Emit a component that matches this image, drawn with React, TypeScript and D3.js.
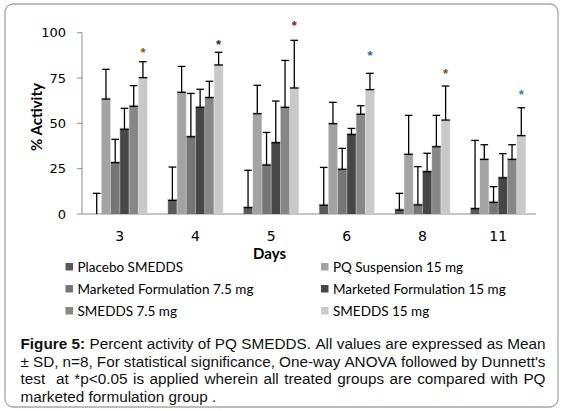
import React, { useEffect, useRef } from 'react';
import * as d3 from 'd3';

// chart data
const days = ['3', '4', '5', '6', '8', '11'];
const seriesNames = [
  'Placebo SMEDDS',
  'PQ Suspension 15 mg',
  'Marketed Formulation 7.5 mg',
  'Marketed Formulation 15 mg',
  'SMEDDS 7.5 mg',
  'SMEDDS 15 mg',
];
const placebo = [0, 7.5, 3.5, 4.8, 2.2, 2.9];
const pqSusp = [63.4, 67.1, 55.3, 49.8, 32.9, 30.1];
const mkt75 = [28.3, 42.6, 27.0, 24.6, 5.0, 6.4];
const mkt15 = [46.7, 58.8, 39.3, 43.8, 23.3, 19.9];
const smedds75 = [59.4, 64.2, 58.8, 55.0, 37.1, 30.1];
const smedds15 = [75.2, 82.2, 69.5, 68.6, 51.8, 43.2];

const placeboSd = [11.4, 18.4, 20.6, 20.9, 9.2, 37.7];
const pqSuspSd = [16.4, 14.3, 15.7, 11.8, 21.5, 8.1];
const mkt75Sd = [12.9, 23.9, 18.0, 11.6, 21.1, 8.7];
const mkt15Sd = [11.6, 10.0, 23.0, 3.4, 10.2, 13.4];
const smedds75Sd = [11.4, 9.0, 25.9, 4.7, 17.3, 8.1];
const smedds15Sd = [8.8, 7.0, 26.3, 9.0, 18.8, 15.4];

// significance markers above SMEDDS 15 mg (height in % units)
const starLevel = [89.7, 94.3, 104.8, 88.2, 78.3, 66.7];
const starColors = ['#7d5c12', '#1f2d4d', '#7a1434', '#2563a3', '#6b5222', '#2a82ad'];

const yTicks = [0, 25, 50, 75, 100];
const colors = ['#595959', '#a3a3a3', '#767676', '#474747', '#878787', '#c9c9c9'];

const captionLines = [
  'Figure 5: Percent activity of PQ SMEDDS. All values are expressed as Mean',
  '± SD, n=8, For statistical significance, One-way ANOVA followed by Dunnett\'s',
  'test  at *p<0.05 is applied wherein all treated groups are compared with PQ',
  'marketed formulation group .',
];

const means = [placebo, pqSusp, mkt75, mkt15, smedds75, smedds15];
const sds = [placeboSd, pqSuspSd, mkt75Sd, mkt15Sd, smedds75Sd, smedds15Sd];

const W = 566;
const H = 411;

const App: React.FC = () => {
  const captionRef = useRef<SVGGElement>(null);

  // layout
  const plot = { left: 82, right: 536, top: 32.7, bottom: 214 };
  const x0 = d3.scaleBand<string>().domain(days).range([plot.left, plot.right])
    .paddingInner(0.257).paddingOuter(0.1285);
  const x1 = d3.scaleBand<string>().domain(seriesNames).range([0, x0.bandwidth()]).padding(0.08);
  const y = d3.scaleLinear().domain([0, 100]).range([plot.bottom, plot.top]);

  const bars = days.flatMap((day, i) =>
    seriesNames.map((s, j) => ({ day, s, j, v: means[j][i], sd: sds[j][i] })));

  // justified caption, laid out by measuring each word
  useEffect(() => {
    const g = d3.select(captionRef.current);
    g.selectAll('*').remove();
    const left = 20.5, right = 545.5, base = 349, lh = 17.6;
    captionLines.forEach((line, li) => {
      const tokens = line.split(/( +)/);
      const words: string[] = [];
      const gaps: number[] = [];
      tokens.forEach((t) => {
        if (t.trim() === '') gaps.push(t.length);
        else words.push(t);
      });
      const yy = base + li * lh;
      const nodes = words.map((w, wi) => {
        const bold = li === 0 && wi < 2;
        return g.append('text')
          .attr('y', yy)
          .attr('font-family', '"Liberation Sans", Arial, sans-serif')
          .attr('font-size', 15.3)
          .attr('font-weight', bold ? 700 : 400)
          .attr('fill', '#111')
          .text(w);
      });
      const widths = nodes.map((n) => (n.node() as SVGTextElement).getComputedTextLength());
      const total = d3.sum(widths);
      const justify = li < captionLines.length - 1;
      const gapUnits = d3.sum(gaps);
      const unit = justify ? (right - left - total) / gapUnits : 4.3;
      let cx = left;
      nodes.forEach((n, k) => {
        n.attr('x', cx);
        cx += widths[k] + (gaps[k] ?? 0) * unit;
      });
    });
  }, []);

  const legendRows = [0, 1, 2];
  const legendCols = [65.5, 321];

  return (
    <svg width={W} height={H} style={{ position: 'absolute', left: 0, top: 0, background: '#fff' }}>
      <rect x={5} y={4} width={553} height={403} rx={8} fill="#fff" stroke="#a6a6a6" strokeWidth={1.3} />

      {/* axes */}
      <line x1={plot.left} x2={plot.left} y1={plot.top} y2={plot.bottom} stroke="#8c8c8c" />
      <line x1={plot.left} x2={plot.right} y1={plot.bottom} y2={plot.bottom} stroke="#8c8c8c" strokeWidth={1.2} />
      {yTicks.map((t) => (
        <g key={t}>
          <line x1={plot.left - 5} x2={plot.left} y1={y(t)} y2={y(t)} stroke="#8c8c8c" />
          <text x={66} y={y(t)} dy="0.36em" textAnchor="end" fontFamily='"DejaVu Sans", Verdana, sans-serif'
            fontSize={13} fill="#000">{t}</text>
        </g>
      ))}
      {days.map((d) => (
        <text key={d} x={x0(d)! + x0.bandwidth() / 2} y={236} dy="0.36em" textAnchor="middle"
          fontFamily='"DejaVu Sans", Verdana, sans-serif' fontSize={14} fill="#000">{d}</text>
      ))}
      <text transform="translate(37,117) rotate(-90)" textAnchor="middle" dy="0.35em"
        fontFamily="Lato, 'Open Sans', sans-serif" fontWeight={700} fontSize={15} fill="#000">% Activity</text>
      <text x={269.5} y={254} dy="0.35em" textAnchor="middle"
        fontFamily="Lato, 'Open Sans', sans-serif" fontWeight={700} fontSize={15} fill="#000">Days</text>

      {/* bars */}
      {bars.map((b) => {
        const bx = x0(b.day)! + x1(b.s)!;
        const bw = x1.bandwidth();
        const top = y(b.v);
        return (
          <g key={b.day + b.s}>
            {b.v > 0 && (
              <>
                <rect x={bx - 0.6} y={top - 1.6} width={bw + 1.2} height={plot.bottom - top + 1.6}
                  fill={colors[b.j]} opacity={0.35} />
                <rect x={bx} y={top} width={bw} height={plot.bottom - top} fill={colors[b.j]} />
              </>
            )}
          </g>
        );
      })}

      {/* error bars (plus only) */}
      {bars.map((b) => {
        const cx = x0(b.day)! + x1(b.s)! + x1.bandwidth() / 2;
        const half = 3.8;
        return (
          <g key={'e' + b.day + b.s} stroke="#000" strokeWidth={1.3}>
            {b.v > 0 && <line x1={cx - x1.bandwidth() / 2} x2={cx + x1.bandwidth() / 2} y1={y(b.v)} y2={y(b.v)} />}
            <line x1={cx} x2={cx} y1={y(b.v)} y2={y(b.v + b.sd)} />
            <line x1={cx - half} x2={cx + half} y1={y(b.v + b.sd)} y2={y(b.v + b.sd)} />
          </g>
        );
      })}

      {/* significance stars */}
      {days.map((d, i) => (
        <text key={'s' + d} x={x0(d)! + x1(seriesNames[5])! + x1.bandwidth() / 2} y={y(starLevel[i]) + 6}
          textAnchor="middle" fontFamily='"Liberation Sans", Arial, sans-serif' fontWeight={700}
          fontSize={13} fill={starColors[i]}>*</text>
      ))}

      {/* legend */}
      {seriesNames.map((s, j) => {
        const col = j % 2;
        const row = legendRows[Math.floor(j / 2)];
        const lx = legendCols[col];
        const ly = 267 + row * 22;
        return (
          <g key={'l' + s}>
            <rect x={lx} y={ly - 4} width={7.5} height={7.5} fill={colors[j]} />
            <text x={lx + 12} y={ly} dy="0.35em" fontFamily="Lato, 'Open Sans', sans-serif" fontSize={13.5}
              fill="#000">{s}</text>
          </g>
        );
      })}

      <g ref={captionRef} />
    </svg>
  );
};

export default App;
